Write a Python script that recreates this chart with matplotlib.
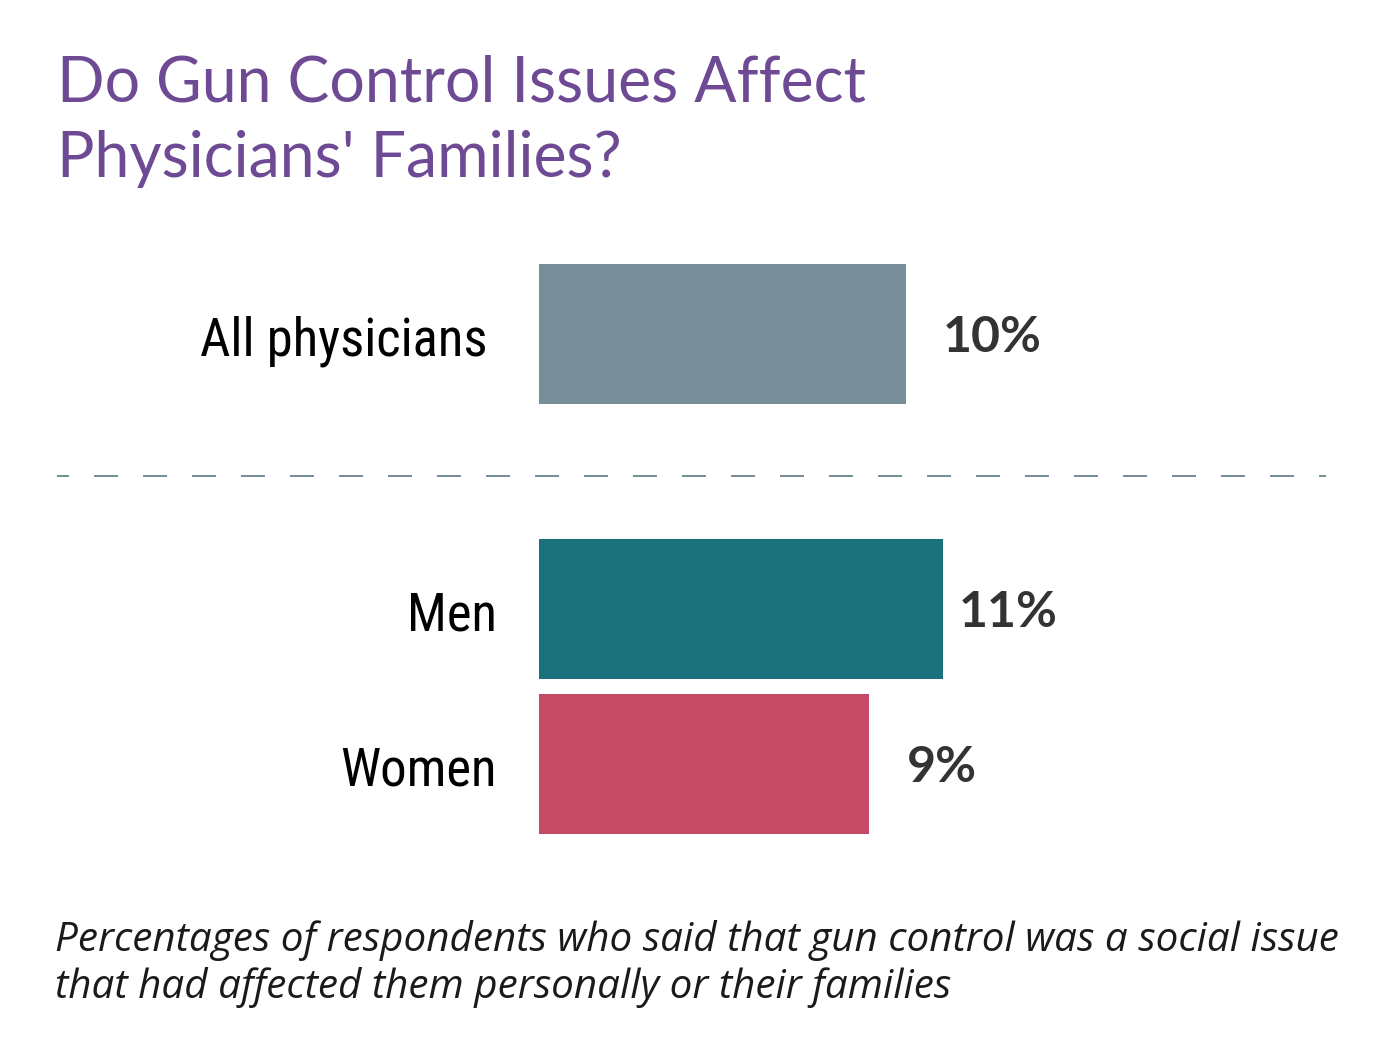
import matplotlib
matplotlib.use("Agg")
import matplotlib.pyplot as plt
from matplotlib.lines import Line2D
from matplotlib.transforms import offset_copy

categories = ["All physicians", "Men", "Women"]
values = [10, 11, 9]
value_labels = ["10%", "11%", "9%"]
colors = ["#788f9a", "#1b717c", "#c44a65"]
y_pos = [334, 609, 764]           # layout: bar centres in pixel rows
label_gaps = [51, 42, 42]          # layout: gap from bar start to label end (px)
value_gaps = [37, 16, 38]          # layout: gap from bar end to value label (px)

title_lines = ["Do Gun Control Issues Affect", "Physicians' Families?"]
note_lines = ["Percentages of respondents who said that gun control was a social issue",
              "that had affected them personally or their families"]

W, H = 1380, 1037
fig = plt.figure(figsize=(W / 100, H / 100), dpi=100)
fig.patch.set_facecolor("white")
renderer = fig.canvas.get_renderer()

x0, x1, ytop, ybot = 539, 1339, 200, 900
ax = fig.add_axes([x0 / W, 1 - ybot / H, (x1 - x0) / W, (ybot - ytop) / H])
px_per_pct = 36.7
ax.set_xlim(0, (x1 - x0) / px_per_pct)
ax.set_ylim(ybot, ytop)
ax.axis("off")

label_font = ["Roboto Condensed", "Liberation Sans Narrow", "DejaVu Sans"]
value_font = ["Lato", "Open Sans", "DejaVu Sans"]

ax.barh(y_pos, values, height=140, color=colors, left=0)

for y, v, lab, cat, lg, vg in zip(y_pos, values, value_labels, categories,
                                  label_gaps, value_gaps):
    t = offset_copy(ax.transData, fig=fig, x=vg, y=-18, units="dots")
    ax.text(v, y, lab, transform=t, ha="left", va="baseline", fontsize=36,
            fontweight="bold", color="#333333", family=value_font)
    t2 = offset_copy(ax.transData, fig=fig, x=-lg, y=-21, units="dots")
    ax.text(0, y, cat, transform=t2, ha="right", va="baseline", fontsize=38,
            color="#000000", family=label_font)

# dashed separator
fig.add_artist(Line2D([57 / W, 1326 / W], [1 - 476 / H, 1 - 476 / H],
                      color="#788f9a", lw=1.44, solid_capstyle="butt",
                      dash_capstyle="butt", linestyle=(6, (12, 12.5))))


def fit_text(x, y, s, target_w, size, **kw):
    t = fig.text(x / W, 1 - y / H, s, ha="left", va="baseline", fontsize=size, **kw)
    w = t.get_window_extent(renderer).width
    t.set_fontsize(size * target_w / w)
    return t


ts = fit_text(57, 102, title_lines[0], 808, 43, color="#6f4a94",
              family=["Lato", "DejaVu Sans"])
fs = ts.get_fontsize()
fig.text(57 / W, 1 - 177 / H, title_lines[1], ha="left", va="baseline",
         fontsize=fs, color="#6f4a94", family=["Lato", "DejaVu Sans"])

tn = fit_text(55, 951, note_lines[0], 1282, 22, style="italic", color="#1a1a1a",
              family=["Open Sans", "DejaVu Sans"])
fig.text(55 / W, 1 - 998 / H, note_lines[1], ha="left", va="baseline",
         fontsize=tn.get_fontsize(), style="italic", color="#1a1a1a",
         family=["Open Sans", "DejaVu Sans"])

fig.savefig("out.png", dpi=100, facecolor="white")
